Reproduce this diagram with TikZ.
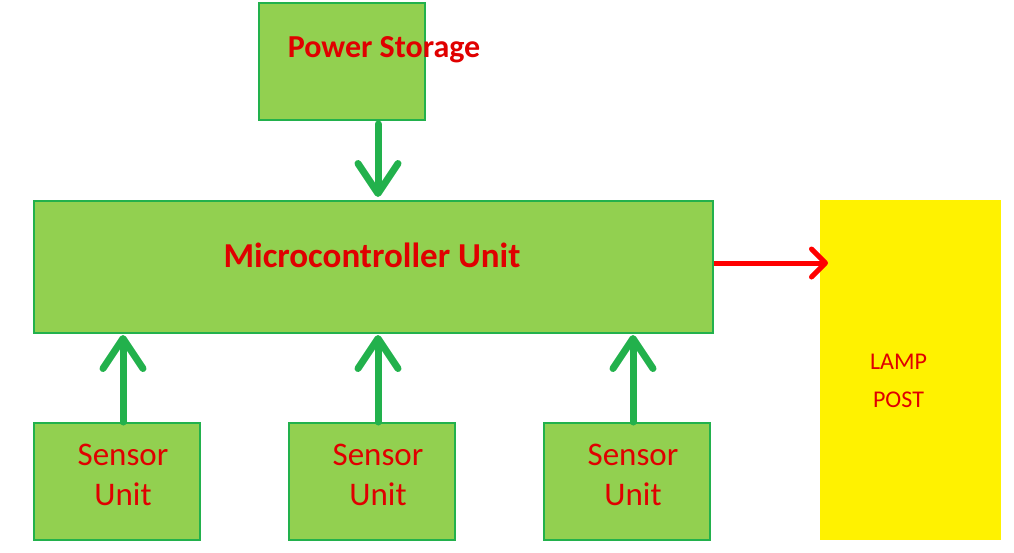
\documentclass[tikz,border=0pt]{standalone}
\usepackage{fontspec}
\setmainfont{Carlito}
\usetikzlibrary{arrows.meta}
\definecolor{boxg}{HTML}{92D050}
\definecolor{lineg}{HTML}{22B14C}
\definecolor{txtr}{HTML}{E00000}
\begin{document}
\begin{tikzpicture}[x=1pt,y=-1pt,
 box/.style={draw=lineg,line width=2pt,fill=boxg,inner sep=0pt},
 garr/.style={draw=lineg,line width=7pt,line cap=round,-{Straight Barb[length=30pt,width=40pt,round,line width=7pt]}},
 rarr/.style={draw=red,line width=5pt,-{Straight Barb[length=14pt,width=28pt,round,line width=5pt]}},
 lab/.style={text=txtr,align=center}]
\useasboundingbox (0,0) rectangle (1014,552);
\node[box,minimum width=166pt,minimum height=117pt] (ps) at (341.5,61) {};
\node[lab,font=\bfseries\fontsize{32}{38}\selectfont] at (384,50) {Power Storage};
\node[box,minimum width=679pt,minimum height=132pt] (mcu) at (373,266.5) {};
\node[lab,font=\bfseries\fontsize{35}{42}\selectfont] at (372,255) {Microcontroller Unit};
\foreach \i/\x in {1/116.5,2/371.5,3/626.5}{
 \node[box,minimum width=166pt,minimum height=117pt] (s\i) at (\x,481) {};
 \node[lab,font=\fontsize{33}{40}\selectfont] at (\x+6.5,475) {Sensor\\Unit};
}
\node[fill=yellow,minimum width=181pt,minimum height=340pt,inner sep=0pt] (lamp) at (910.5,370) {};
\node[lab,font=\fontsize{24}{38}\selectfont] at (lamp.center) [yshift=-11pt,xshift=-12pt] {LAMP\\POST};
\draw[garr] (378,124) -- (378,197);
\draw[garr] (123,422) -- (123,335);
\draw[garr] (378,422) -- (378,335);
\draw[garr] (633,422) -- (633,335);
\draw[rarr] (mcu.east |- 0,263) -- (828,263);
\end{tikzpicture}
\end{document}
